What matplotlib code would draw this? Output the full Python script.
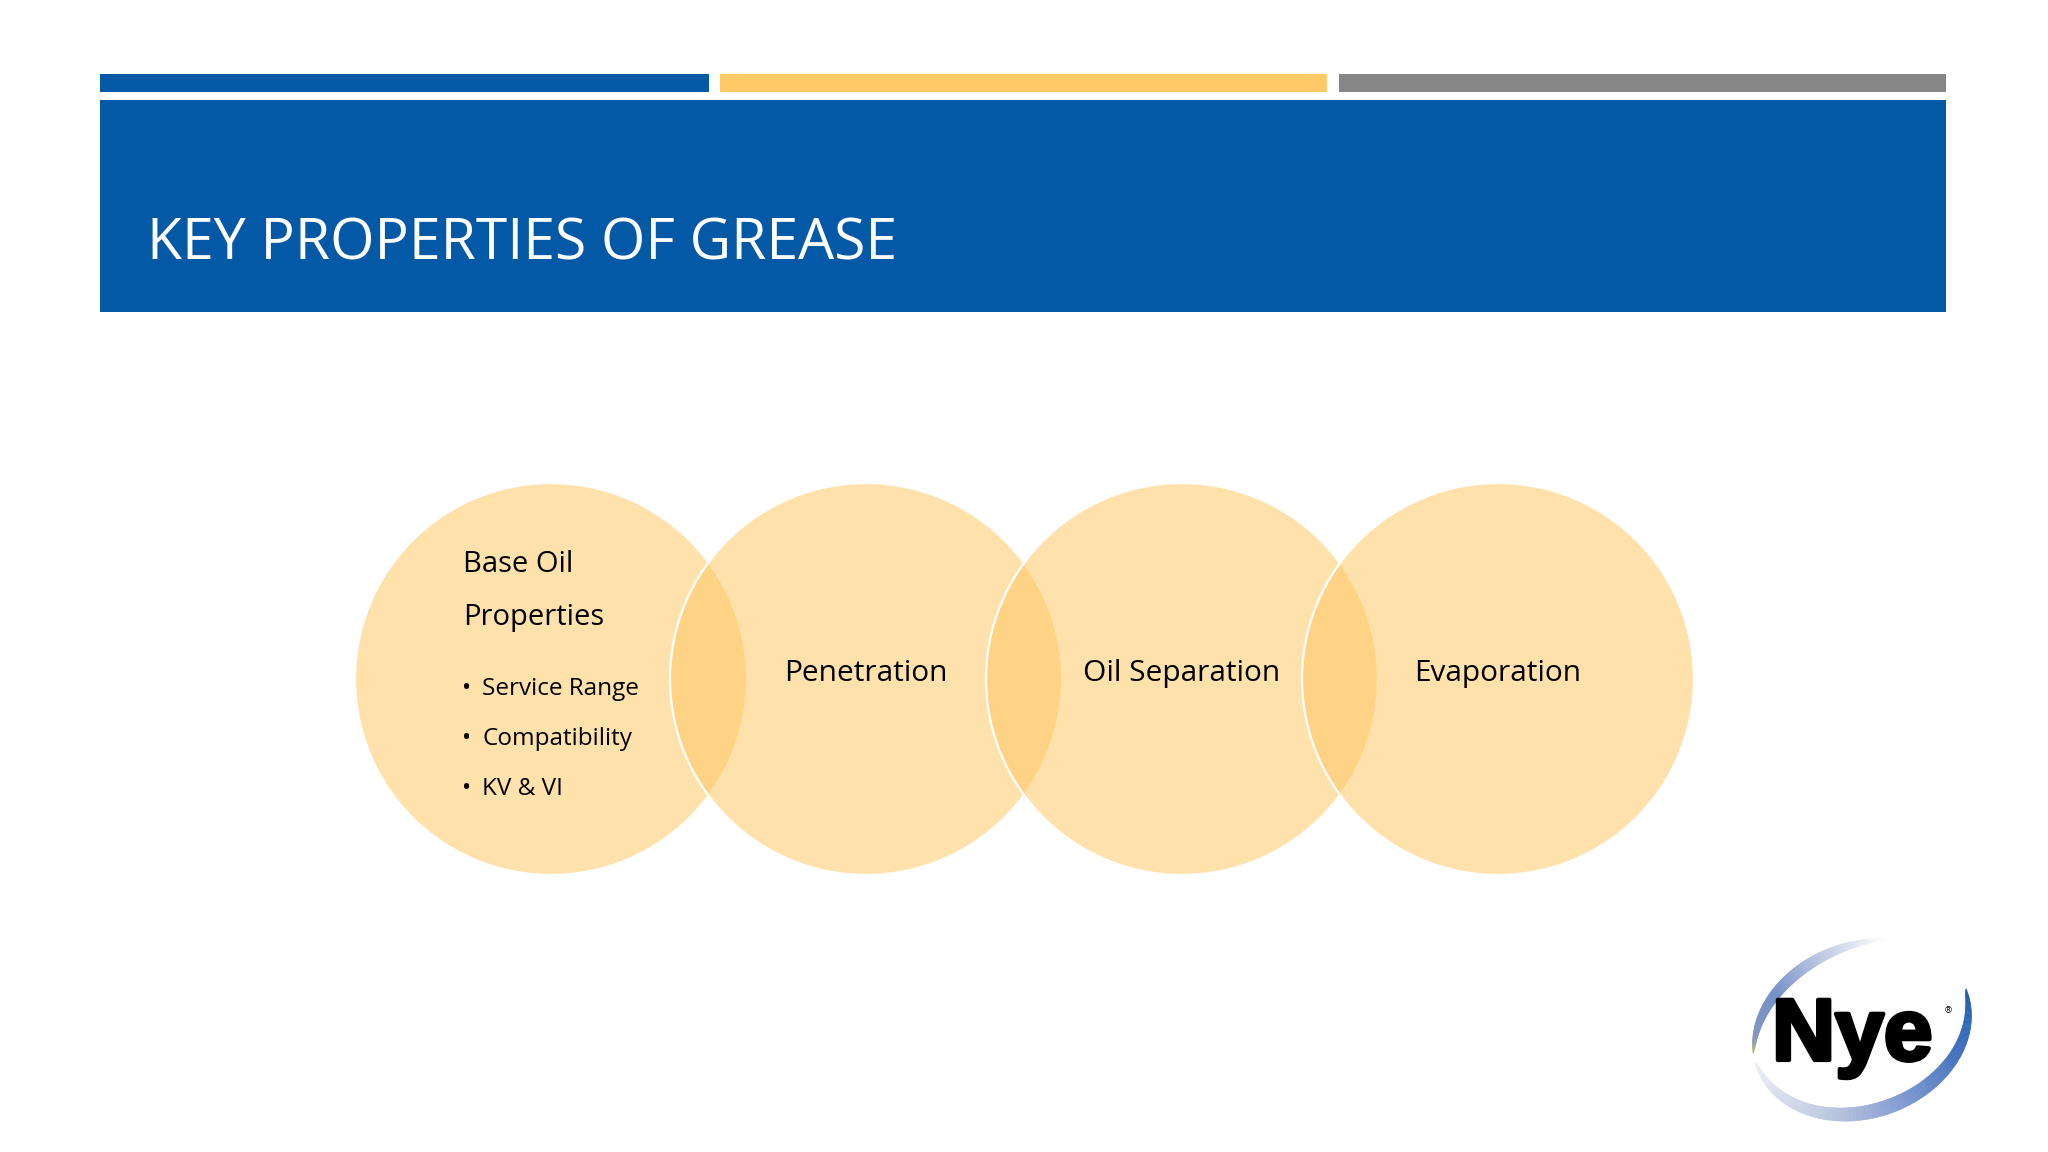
import numpy as np
import matplotlib
matplotlib.use("Agg")
import matplotlib.pyplot as plt
from matplotlib.patches import Rectangle, Circle
from matplotlib.collections import PolyCollection
from matplotlib.colors import to_rgb
import matplotlib.patheffects as pe

# ---------------------------------------------------------------------------
# slide content
# ---------------------------------------------------------------------------
TITLE = "KEY PROPERTIES OF GREASE"
CIRCLE_LABELS = ["Base Oil\nProperties", "Penetration", "Oil Separation", "Evaporation"]
BASE_OIL_BULLETS = ["Service Range", "Compatibility", "KV & VI"]
STRIPE_COLORS = ["#0459A6", "#FEC966", "#868686"]

HEADER_BLUE = "#0459A6"
CIRCLE_COLOR = "#FFC966"
FONT = "Open Sans"

# slide geometry in pixels (2048 x 1152 canvas, y down)
W, H = 2048, 1152
CIRCLE_X = [551, 866, 1182, 1498]
CIRCLE_Y = 679
CIRCLE_R = 196

fig = plt.figure(figsize=(W / 100, H / 100), dpi=100)
ax = fig.add_axes([0, 0, 1, 1])
ax.set_xlim(0, W)
ax.set_ylim(H, 0)
ax.axis("off")

# --- top stripes + header band -------------------------------------------
stripe_x = [(100, 709), (720, 1327), (1339, 1946)]
for (x0, x1), c in zip(stripe_x, STRIPE_COLORS):
    ax.add_patch(Rectangle((x0, 74), x1 - x0, 18, color=c, lw=0))
ax.add_patch(Rectangle((100, 100), 1846, 212, color=HEADER_BLUE, lw=0))
ax.text(147, 259, TITLE, color="white", fontsize=41, family=FONT,
        ha="left", va="baseline")

# --- overlapping circles ---------------------------------------------------
for cx in CIRCLE_X:
    ax.add_patch(Circle((cx, CIRCLE_Y), CIRCLE_R, facecolor=CIRCLE_COLOR,
                        alpha=0.55, edgecolor="none"))
    ax.add_patch(Circle((cx, CIRCLE_Y), CIRCLE_R, facecolor="none",
                        edgecolor="white", lw=1.6))

# first circle: heading + bullet list
head_lines = CIRCLE_LABELS[0].split("\n")
for i, s in enumerate(head_lines):
    ax.text(463, 572 + 53 * i, s, fontsize=21, family=FONT, color="black",
            ha="left", va="baseline")
for i, s in enumerate(BASE_OIL_BULLETS):
    y = 695 + 50 * i
    ax.text(462, y, "\u2022", fontsize=17.5, family=FONT, ha="left", va="baseline")
    ax.text(482, y, s, fontsize=17.5, family=FONT, ha="left", va="baseline")

for cx, s in zip(CIRCLE_X[1:], CIRCLE_LABELS[1:]):
    ax.text(cx, 681, s, fontsize=21.5, family=FONT, color="black",
            ha="center", va="baseline")

# --- Nye logo (approximate swoosh ring + wordmark) -------------------------
LX, LY, LA, LB, LTH = 1862, 1030, 112, 88, np.radians(20)


def ell(t, a, b):
    x, y = a * np.cos(t), b * np.sin(t)
    xr = x * np.cos(LTH) - y * np.sin(LTH)
    yr = x * np.sin(LTH) + y * np.cos(LTH)
    return LX + xr, LY - yr


def lerp_colors(stops, t):
    ts = [s[0] for s in stops]
    cs = np.array([to_rgb(s[1]) for s in stops])
    return np.array([np.interp(t, ts, cs[:, k]) for k in range(3)])


def swoosh(t0, t1, wmax, stops, power=0.7):
    ts = np.radians(np.linspace(t0, t1, 240))
    polys, cols = [], []
    for i in range(len(ts) - 1):
        ta, tb = ts[i], ts[i + 1]
        fa = np.sin(np.pi * (np.degrees(ta) - t0) / (t1 - t0)) ** power
        fb = np.sin(np.pi * (np.degrees(tb) - t0) / (t1 - t0)) ** power
        wa, wb = wmax * max(fa, 0), wmax * max(fb, 0)
        p = [ell(ta, LA, LB), ell(tb, LA, LB),
             ell(tb, LA - wb, LB - wb), ell(ta, LA - wa, LB - wa)]
        polys.append(p)
        cols.append(lerp_colors(stops, np.degrees(0.5 * (ta + tb))))
    ax.add_collection(PolyCollection(polys, facecolors=cols, edgecolors=cols, lw=0.4))


swoosh(62, 170, 11, [(62, "#ffffff"), (95, "#c3cde6"), (130, "#7690c8"),
                     (160, "#8196c0"), (170, "#b8c070")])
swoosh(176, 362, 14, [(176, "#eef0f5"), (230, "#c5cde3"), (280, "#7d97cf"),
                      (320, "#3f70bd"), (362, "#1a5cb0")], power=0.6)

ax.text(1772, 1060, "Nye", fontsize=63, family="Liberation Sans",
        weight="bold", color="black", ha="left", va="baseline",
        path_effects=[pe.withStroke(linewidth=3, foreground="black")])
ax.text(1944, 1011, "\u00ae", fontsize=6.5, family="DejaVu Sans",
        color="black", ha="left", va="center")

fig.savefig("out.png", dpi=100, facecolor="white")
